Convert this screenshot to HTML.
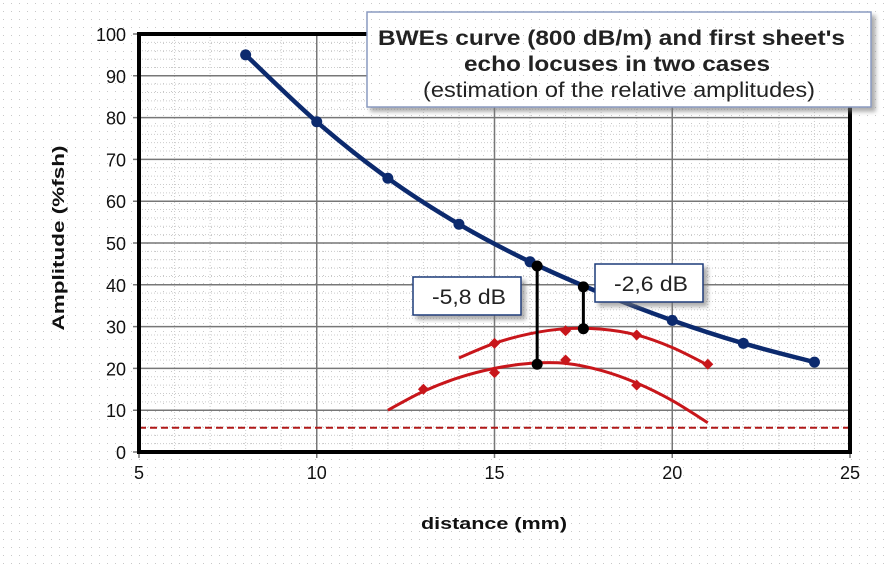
<!DOCTYPE html>
<html><head><meta charset="utf-8"><style>
html,body{margin:0;padding:0;background:#fff;}
svg{display:block;font-family:"Liberation Sans",Arial,sans-serif;}
</style></head><body>
<svg id="chart" width="889" height="565" viewBox="0 0 889 565">
<defs>
<pattern id="dots" width="8" height="8" patternUnits="userSpaceOnUse"><rect x="3" y="3" width="1" height="1" fill="#c8c8c8"/></pattern>
<filter id="sh" x="-5%" y="-10%" width="115%" height="130%"><feDropShadow dx="4" dy="4" stdDeviation="2" flood-color="#777" flood-opacity="0.6"/></filter>
</defs>
<rect width="889" height="565" fill="url(#dots)"/>
<g id="grid"></g>
<g id="series"></g>
<g id="frame"></g>
<g>
<rect x="367" y="12" width="504" height="95" fill="#fff" stroke="#8a9ac0" stroke-width="1.5" filter="url(#sh)"/>
<rect x="367" y="12" width="504" height="95" fill="url(#dots)"/>
<text x="378" y="45" textLength="467" lengthAdjust="spacingAndGlyphs" font-size="21" font-weight="bold" fill="#222">BWEs curve (800 dB/m) and first sheet's</text>
<text x="464" y="71" textLength="306" lengthAdjust="spacingAndGlyphs" font-size="21" font-weight="bold" fill="#222">echo locuses in two cases</text>
<text x="423" y="97" textLength="392" lengthAdjust="spacingAndGlyphs" font-size="21" fill="#222">(estimation of the relative amplitudes)</text>
</g>
<text x="64" y="238" transform="rotate(-90 64 238)" text-anchor="middle" textLength="185" lengthAdjust="spacingAndGlyphs" font-size="17" font-weight="bold" fill="#111">Amplitude (%fsh)</text>
<text x="494" y="529" text-anchor="middle" textLength="146" lengthAdjust="spacingAndGlyphs" font-size="17" font-weight="bold" fill="#111">distance (mm)</text>
</svg>
<script>
const xTicks=[5,10,15,20,25];
const yTicks=[0,10,20,30,40,50,60,70,80,90,100];
const bweX=[8,10,12,14,16,18,20,22,24];
const bweY=[95,79,65.5,54.5,45.5,38,31.5,26,21.5];
const upperX=[15,17,19,21];
const upperY=[26,29,28,21];
const upperFitX=[14,15,16,17,18,19,20,21];
const upperFitY=[22.5,26,28.3,29.5,29.4,28,25,20.8];
const lowerX=[13,15,17,19];
const lowerY=[15,19,22,16];
const lowerFitX=[12,13,14,15,16,17,18,19,20,21];
const lowerFitY=[10,14.5,17.8,20,21.2,21.2,19.5,16.5,12.3,7];
const noiseLevel=5.8;
const gap1=[16.2,44.5,21];
const gap2=[17.5,39.5,29.5];
const gapLabels=["-5,8 dB","-2,6 dB"];

const X0=139,X1=850,Y0=452,Y1=34;
const sx=v=>X0+(v-5)/20*(X1-X0);
const sy=v=>Y0-(v/100)*(Y0-Y1);
const NS="http://www.w3.org/2000/svg";
function mk(tag,attrs,parent){const e=document.createElementNS(NS,tag);for(const k in attrs)e.setAttribute(k,attrs[k]);parent.appendChild(e);return e;}
const grid=document.getElementById('grid'),ser=document.getElementById('series'),fr=document.getElementById('frame');
mk('rect',{x:X0,y:Y1,width:X1-X0,height:Y0-Y1,fill:'#fff'},grid);
mk('rect',{x:X0,y:Y1,width:X1-X0,height:Y0-Y1,fill:'url(#dots)'},grid);
for(let v=2;v<100;v+=2){if(v%10===0)continue;mk('line',{x1:X0,x2:X1,y1:sy(v),y2:sy(v),stroke:'#ccc','stroke-dasharray':'1 2'},grid);}
for(let v=6;v<25;v++){if(v%5===0)continue;mk('line',{x1:sx(v),x2:sx(v),y1:Y1,y2:Y0,stroke:'#ccc','stroke-dasharray':'1 2'},grid);}
yTicks.forEach(v=>{
 const l=mk('line',{x1:X0-6,x2:X1,y1:sy(v),y2:sy(v),stroke:'#777','stroke-width':1.5},grid);
 
 
 const t=mk('text',{x:X0-13,y:sy(v)+7,'text-anchor':'end','font-size':18,fill:'#111'},grid);t.textContent=v;
 
 
});
xTicks.forEach(v=>{
 const l=mk('line',{x1:sx(v),x2:sx(v),y1:Y1,y2:Y0+6,stroke:'#777','stroke-width':1.5},grid);
 
 
 const t=mk('text',{x:sx(v),y:Y0+27,'text-anchor':'middle','font-size':18,fill:'#111'},grid);t.textContent=v;
 
 
});
function smooth(xs,ys){const p=xs.map((x,i)=>[sx(x),sy(ys[i])]);let d=`M${p[0][0]},${p[0][1]}`;
 for(let i=0;i<p.length-1;i++){const a=p[i-1]||p[i],b=p[i],c=p[i+1],e=p[i+2]||c;
 d+=` C${b[0]+(c[0]-a[0])/6},${b[1]+(c[1]-a[1])/6} ${c[0]-(e[0]-b[0])/6},${c[1]-(e[1]-b[1])/6} ${c[0]},${c[1]}`;}return d;}
const dash=mk('line',{x1:X0,x2:X1+4,y1:sy(noiseLevel),y2:sy(noiseLevel),stroke:'#b01818','stroke-width':2,'stroke-dasharray':'7 4'},ser);


[[upperFitX,upperFitY,upperX,upperY,'upper'],[lowerFitX,lowerFitY,lowerX,lowerY,'lower']].forEach(([fx,fy,px,py,n])=>{
 const p=mk('path',{d:smooth(fx,fy),fill:'none',stroke:'#c8161b','stroke-width':3},ser);
 
 
 px.forEach((x,i)=>{const cx=sx(x),cy=sy(py[i]);
  const m=mk('path',{d:`M${cx},${cy-5.5}L${cx+5.5},${cy}L${cx},${cy+5.5}L${cx-5.5},${cy}Z`,fill:'#c8161b'},ser);
  
  });
});
const bl=mk('path',{d:smooth(bweX,bweY),fill:'none',stroke:'#0c2a6e','stroke-width':4.5},ser);


bweX.forEach((x,i)=>{const c=mk('circle',{cx:sx(x),cy:sy(bweY[i]),r:5.5,fill:'#0c2a6e'},ser);
 
 });
[gap1,gap2].forEach((g,i)=>{
 const l=mk('line',{x1:sx(g[0]),x2:sx(g[0]),y1:sy(g[1]),y2:sy(g[2]),stroke:'#000','stroke-width':3},ser);
 
 
 [g[1],g[2]].forEach(v=>mk('circle',{cx:sx(g[0]),cy:sy(v),r:5.5,fill:'#000'},ser));
});
[[413,277,gapLabels[0]],[595,264,gapLabels[1]]].forEach(([x,y,t],i)=>{
 const g=mk('g',{},ser);
 
 
 mk('rect',{x:x,y:y,width:108,height:38,fill:'#fff',stroke:'#1a3a7a','stroke-width':1.5,filter:'url(#sh)'},g);
 const tx=mk('text',{x:x+56,y:y+27,'text-anchor':'middle','font-size':21,textLength:74,lengthAdjust:'spacingAndGlyphs',fill:'#222'},g);tx.textContent=t;
});
mk('line',{x1:X0,x2:X0,y1:Y1-2,y2:Y0+2,stroke:'#000','stroke-width':4},fr);
mk('line',{x1:X1,x2:X1,y1:Y1-2,y2:Y0+2,stroke:'#000','stroke-width':4},fr);
mk('line',{x1:X0-2,x2:X1+2,y1:Y1,y2:Y1,stroke:'#000','stroke-width':4},fr);
mk('line',{x1:X0-2,x2:X1+2,y1:Y0,y2:Y0,stroke:'#000','stroke-width':4},fr);
</script>
</body></html>
